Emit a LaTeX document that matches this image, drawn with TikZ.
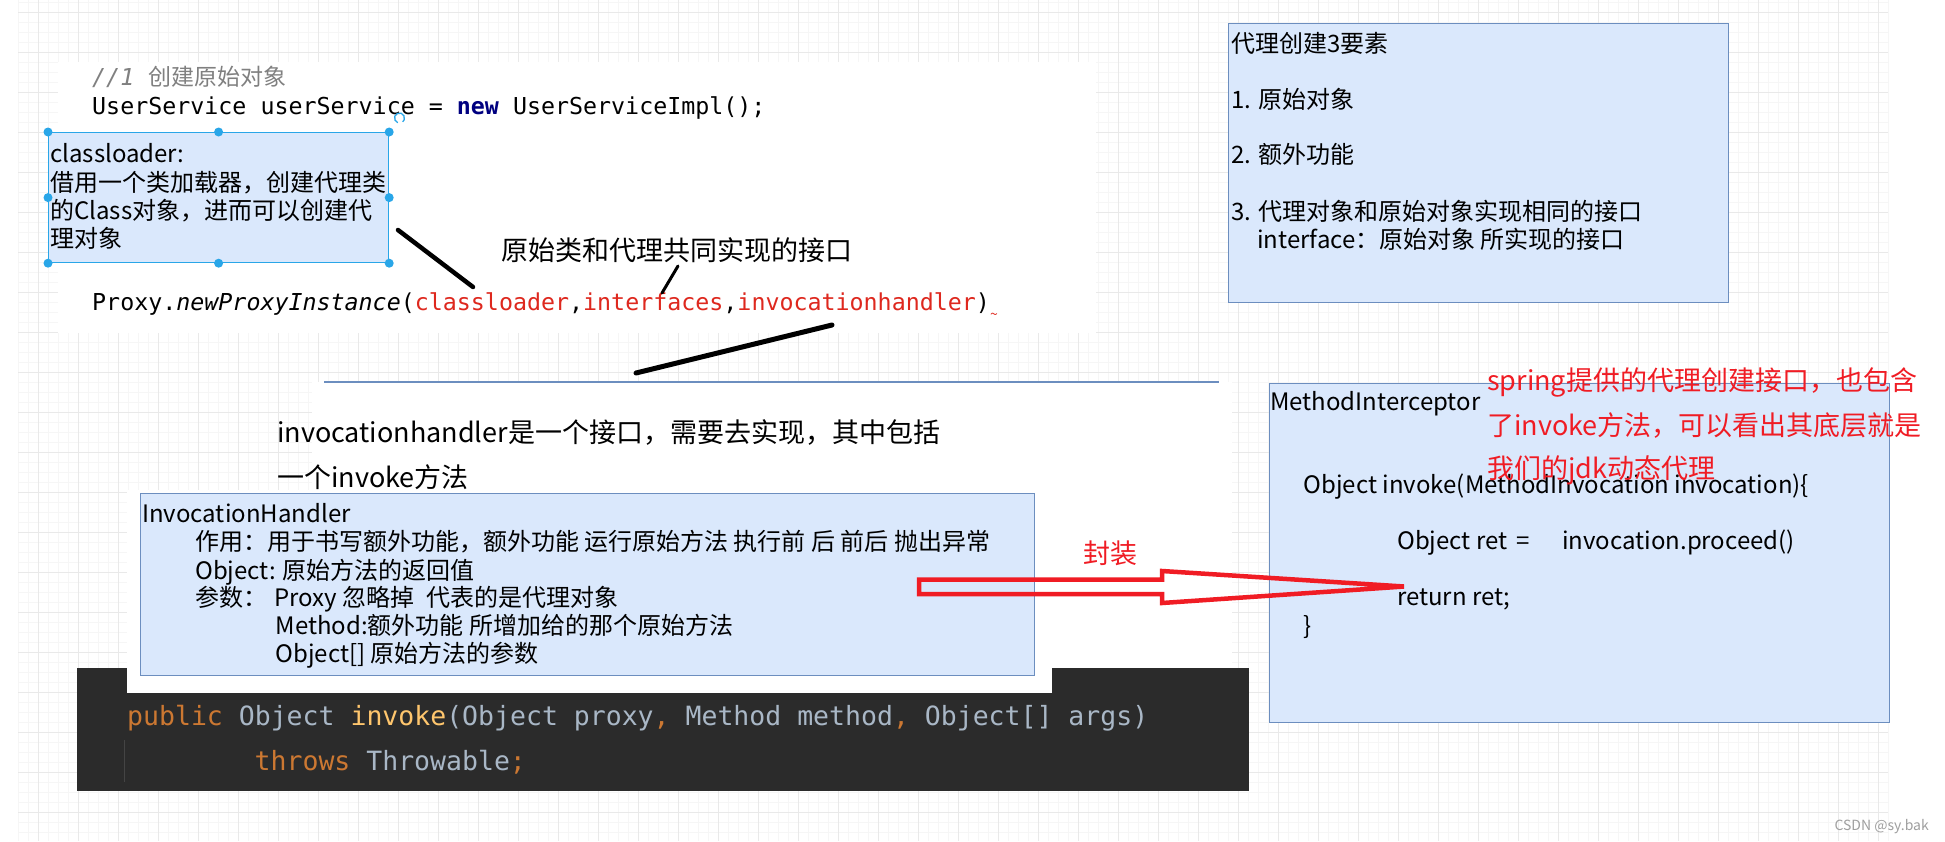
\documentclass[tikz,border=0pt]{standalone}
\usepackage{fontspec}
\setmainfont{Noto Sans CJK SC}
\setmonofont{DejaVu Sans Mono}
\usetikzlibrary{calc}
\definecolor{boxfill}{RGB}{218,232,252}
\definecolor{boxline}{RGB}{108,142,191}
\definecolor{selblue}{RGB}{41,166,232}
\definecolor{codered}{RGB}{222,40,30}
\definecolor{notered}{RGB}{240,28,36}
\definecolor{kwnavy}{RGB}{0,0,128}
\definecolor{darkbg}{RGB}{43,43,43}
\definecolor{kworange}{RGB}{204,120,50}
\definecolor{fgblue}{RGB}{169,183,198}
\definecolor{fnyellow}{RGB}{255,198,109}
\definecolor{gridlo}{RGB}{246,246,246}
\definecolor{gridhi}{RGB}{233,233,233}
\newcommand{\fsz}[1]{\fontsize{#1pt}{#1pt}\selectfont}
\tikzset{
	txt/.style={anchor=base west, inner sep=0pt, font=\fsz{24}},
	bigtxt/.style={anchor=base west, inner sep=0pt, font=\fsz{27}},
	codetxt/.style={anchor=base west, inner sep=0pt, font=\ttfamily\fsz{23.3}},
	darktxt/.style={anchor=base west, inner sep=0pt, font=\ttfamily\fsz{26.5}, text=fgblue},
	bluebox/.style={rectangle, fill=boxfill, draw=boxline, line width=1.2pt, anchor=north west, inner sep=0pt},
	handle/.style={circle, fill=selblue, inner sep=0pt, minimum size=9pt},
	stroke/.style={line cap=round, black}
}

\begin{document}
\begin{tikzpicture}[x=1pt, y=-1pt]
			%%%%% START %%%%%
			\useasboundingbox (0,0) rectangle (1945,841);
			\fill[white] (0,0) rectangle (1945,841);
			
			% background grid
			\foreach \gx in {18,28,...,1888} \draw[gridlo, line width=0.8pt] (\gx,0) -- (\gx,841);
			\foreach \gy in {2,12,...,832} \draw[gridlo, line width=0.8pt] (18,\gy) -- (1888,\gy);
			\foreach \gx in {38,78,...,1878} \draw[gridhi, line width=0.8pt] (\gx,0) -- (\gx,841);
			\foreach \gy in {12,52,...,812} \draw[gridhi, line width=0.8pt] (18,\gy) -- (1888,\gy);
			
			% pasted screenshots
			\fill[white] (58,62) rectangle (1096,333);
			\fill[white] (312,382) rectangle (1232,668);
			\fill[darkbg] (77,668) rectangle (1249,791);
			\fill[white] (127,490) rectangle (1052,693);
			\draw[boxline, line width=1.3pt] (324,382) -- (1219,382);
			
			% top code
			\node[codetxt, text=gray] (cmt) at (92,85) {{\itshape //1 }{\rmfamily\fsz{23}创建原始对象}};
			\node[codetxt] (usr) at (92,114) {UserService userService = {\bfseries\color{kwnavy}new} UserServiceImpl();};
			\node[codetxt] (proxy) at (92,310) {Proxy.{\itshape newProxyInstance}(\textcolor{codered}{classloader},\textcolor{codered}{interfaces},\textcolor{codered}{invocationhandler})};
			\node[anchor=base west, inner sep=0pt, text=codered, font=\fsz{14}] (squiggle) at (990,319) {\textasciitilde};
			\draw[selblue, line width=1.3pt] (399.5,118) ++(110:5) arc (110:410:5);
			
			% classloader box (selected)
			\node[bluebox, draw=selblue, minimum width=340pt, minimum height=130pt] (clbox) at (48,132) {};
			\foreach \a/\n in {north west/1,north/2,north east/3,west/4,east/5,south west/6,south/7,south east/8}
				\node[handle] (hd\n) at (clbox.\a) {};
			\node[txt] (cl1) at (50,162) {classloader:};
			\node[txt] (cl2) at (50,191) {借用一个类加载器，创建代理类};
			\node[txt] (cl3) at (50,219) {的Class对象，进而可以创建代};
			\node[txt] (cl4) at (50,247) {理对象};
			
			\node[bigtxt] (iface) at (501,260) {原始类和代理共同实现的接口};
			
			\coordinate (clEnd) at (398,230);
			\coordinate (clArg) at (473,287);
			\coordinate (ifEnd) at (678,266);
			\coordinate (ifArg) at (662,293);
			\coordinate (ihArg) at (832,325);
			\coordinate (ihEnd) at (636,373);
			\draw[stroke, line width=4.5pt] (clEnd) -- (clArg);
			\draw[stroke, line width=3pt] (ifEnd) -- (ifArg);
			\draw[stroke, line width=5pt] (ihArg) -- (ihEnd);
			
			% three elements
			\node[bluebox, minimum width=500pt, minimum height=279pt] (elements) at (1228,23) {};
			\node[txt] (el0) at (1231,52) {代理创建3要素};
			\node[txt] (el1) at (1231,108) {1. 原始对象};
			\node[txt] (el2) at (1231,163) {2. 额外功能};
			\node[txt] (el3) at (1231,220) {3. 代理对象和原始对象实现相同的接口};
			\node[txt] (el4) at (1257,248) {interface：原始对象 所实现的接口};
			
			% invocation handler
			\node[bigtxt] (ih1) at (277,442) {invocationhandler是一个接口，需要去实现，其中包括};
			\node[bigtxt] (ih2) at (277,487) {一个invoke方法};
			\node[bluebox, minimum width=894pt, minimum height=182pt] (ihbox) at (140,493) {};
			\node[txt] (ihb0) at (142,522) {InvocationHandler};
			\node[txt] (ihb1) at (195,550) {作用：用于书写额外功能，额外功能 运行原始方法 执行前 后 前后 抛出异常};
			\node[txt] (ihb2) at (195,579) {Object: 原始方法的返回值};
			\node[txt] (ihb3) at (195,606) {参数：};
			\node[txt] (ihb4) at (274,606) {Proxy 忽略掉\hspace{12pt}代表的是代理对象};
			\node[txt] (ihb5) at (275.5,634) {Method:额外功能 所增加给的那个原始方法};
			\node[txt] (ihb6) at (275.5,662) {Object[] 原始方法的参数};
			
			% dark code
			\draw[darkbg!70!gray, line width=1pt] (124,740) -- (124,782);
			\node[darktxt] (sig) at (127,725) {\textcolor{kworange}{public} Object \textcolor{fnyellow}{invoke}(Object proxy\textcolor{kworange}{,} Method method\textcolor{kworange}{,} Object[] args)};
			\node[darktxt] (throws) at (254.5,770) {\textcolor{kworange}{throws} Throwable\textcolor{kworange}{;}};
			
			% method interceptor
			\node[bluebox, minimum width=620pt, minimum height=339pt] (mibox) at (1269,383) {};
			\node[txt] (mi0) at (1270,410) {MethodInterceptor};
			\node[txt] (mi1) at (1303.5,493) {Object invoke(MethodInvocation invocation)\{};
			\node[txt] (mi2) at (1397,549) {Object ret};
			\node[txt] (mi3) at (1516,549) {=};
			\node[txt] (mi4) at (1562,549) {invocation.proceed()};
			\node[txt] (mi5) at (1397,605) {return ret;};
			\node[txt] (mi6) at (1303.5,634) {\}};
			
			\node[bigtxt, text=notered] (note1) at (1487,390) {spring提供的代理创建接口，也包含};
			\node[bigtxt, text=notered] (note2) at (1487,435) {了invoke方法，可以看出其底层就是};
			\node[bigtxt, text=notered] (note3) at (1487,478) {我们的jdk动态代理};
			
			% wrapping arrow
			\node[bigtxt, text=notered] (wrap) at (1083.5,563) {封装};
			\draw[notered, line width=4.5pt] (919,579.5) -- (1162,579.5) -- (1162,571) -- (1404,586.5) -- (1162,603) -- (1162,594) -- (919,594) -- cycle;
			
			\node[anchor=base east, inner sep=0pt, text=gray!75, font=\fsz{14}] (wmark) at (1929,830) {CSDN @sy.bak};
			%%%%% END %%%%%
\end{tikzpicture}
\end{document}
